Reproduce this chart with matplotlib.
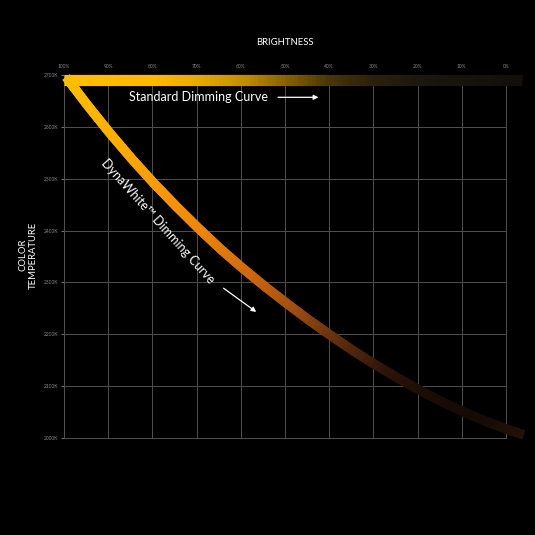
import numpy as np
import matplotlib.pyplot as plt
import matplotlib.transforms as mtrans
from matplotlib.collections import LineCollection
from matplotlib.colors import LinearSegmentedColormap

plt.rcParams['font.family'] = ['Lato', 'DejaVu Sans']

# axis ticks
brightness_ticks = [100, 90, 80, 70, 60, 50, 40, 30, 20, 10, 0]
brightness_labels = ["100%", "90%", "80%", "70%", "60%", "50%", "40%", "30%", "20%", "10%", "0%"]
cct_ticks = [2700, 2600, 2500, 2400, 2300, 2200, 2100, 2000]
cct_labels = ["2700K", "2600K", "2500K", "2400K", "2300K", "2200K", "2100K", "2000K"]

# standard dimming: colour temperature stays put
std_brightness = [100, 90, 80, 70, 60, 50, 40, 30, 20, 10, 0, -3.6]
std_cct = [2700, 2700, 2700, 2700, 2700, 2700, 2700, 2700, 2700, 2700, 2700, 2700]

# DynaWhite dimming: warms as it dims
dyna_brightness = [100, 95, 90, 85, 80, 75, 70, 65, 60, 55, 50, 45, 40, 35, 30, 25, 20, 15, 10, 5, 0, -3.6]
dyna_cct = [2700, 2644, 2591, 2541, 2494, 2450, 2408, 2368, 2331, 2296, 2263, 2231,
            2201, 2172, 2145, 2120, 2096, 2074, 2054, 2036, 2020, 2010]

std_cmap = LinearSegmentedColormap.from_list("std", [
    (0.0, "#ffbe00"), (0.2, "#fdb800"), (0.3, "#e8aa00"), (0.4, "#c08c00"),
    (0.48, "#8c6600"), (0.58, "#4a3708"), (0.68, "#2a200b"), (0.8, "#1a160c"), (1.0, "#120f0b")])
dyna_cmap = LinearSegmentedColormap.from_list("dyna", [
    (0.0, "#ffbe00"), (0.1, "#ffb000"), (0.2, "#f89a05"), (0.3, "#ec850c"), (0.4, "#d06810"),
    (0.5, "#a04e12"), (0.6, "#5e2c0e"), (0.7, "#2c1408"), (0.8, "#1a0c05"), (0.9, "#150a04"),
    (1.0, "#241107")])


def gradient_line(ax, x, y, cmap, lw, transform):
    x = np.asarray(x, float)
    y = np.asarray(y, float)
    # split every segment into short pieces so the colour ramp is smooth
    n = 10
    t = np.linspace(0, len(x) - 1, (len(x) - 1) * n + 1)
    xs = np.interp(t, np.arange(len(x)), x)
    ys = np.interp(t, np.arange(len(y)), y)
    pts = np.column_stack([xs, ys])
    # each piece spans two steps so neighbours overlap and no seams show
    segs = [pts[i:i + 3] for i in range(len(pts) - 2)]
    lc = LineCollection(segs, cmap=cmap, linewidths=lw, capstyle='butt', joinstyle='round',
                        transform=transform, clip_on=False, zorder=3)
    lc.set_array((100 - xs[1:-1]) / 103.6)
    lc.set_clim(0, 1)
    ax.add_collection(lc)


fig = plt.figure(figsize=(5.35, 5.35), dpi=100, facecolor='black')
ax = fig.add_axes([0.1196, 0.1813, 0.8262, 0.6785])
ax.set_facecolor('black')
ax.set_xlim(100, 0)
ax.set_ylim(2000, 2700)

ax.set_xticks(brightness_ticks)
ax.set_xticklabels(brightness_labels)
ax.set_yticks(cct_ticks)
ax.set_yticklabels(cct_labels)
ax.xaxis.tick_top()
ax.tick_params(axis='both', colors='#8a8a8a', labelsize=3.5, length=2, width=0.6, pad=2)
ax.tick_params(axis='x', length=0, pad=4)
ax.grid(color='#505050', lw=0.7)
for s in ax.spines.values():
    s.set_color('#505050')
    s.set_linewidth(0.7)

shift = ax.transData + mtrans.ScaledTranslation(0, -0.05, fig.dpi_scale_trans)
gradient_line(ax, std_brightness, std_cct, std_cmap, 8, shift)
# nudge the DynaWhite band so its outer edge starts right in the corner
nudge = ax.transData + mtrans.ScaledTranslation(0.02, -0.02, fig.dpi_scale_trans)
gradient_line(ax, dyna_brightness, dyna_cct, dyna_cmap, 6.8, nudge)

ax.text(69.5, 2657, "Standard Dimming Curve", color='white', fontsize=9,
        ha='center', va='center', zorder=4)
ax.annotate('', xy=(41.8, 2657), xytext=(52.2, 2657),
            arrowprops=dict(arrowstyle='-|>', color='white', lw=0.9, mutation_scale=7), zorder=4)

ax.text(78.8, 2418, "DynaWhite\u2122 Dimming Curve", color='white', fontsize=9,
        ha='center', va='center', rotation=-48, rotation_mode='anchor', zorder=4)
ax.annotate('', xy=(56.0, 2240), xytext=(64.4, 2292),
            arrowprops=dict(arrowstyle='-|>', color='white', lw=0.9, mutation_scale=7), zorder=4)

fig.text(0.533, 0.921, "BRIGHTNESS", color='white', fontsize=6.8, ha='center', va='center')
fig.text(0.052, 0.523, "COLOR\nTEMPERATURE", color='white', fontsize=6.8, ha='center',
         va='center', rotation=90, linespacing=1.15, multialignment='center')

fig.savefig("out.png", dpi=100, facecolor='black')
